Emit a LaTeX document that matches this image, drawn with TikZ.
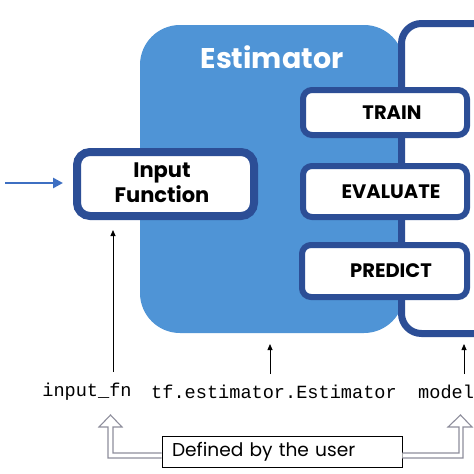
\documentclass[tikz,border=0pt]{standalone}
\usepackage{fontspec}
\setmainfont{Poppins}
\setmonofont{Liberation Mono}
\usetikzlibrary{arrows.meta,calc}
\definecolor{estblue}{HTML}{4F94D6}
\definecolor{darkblue}{HTML}{2C4E96}
\definecolor{arrowblue}{HTML}{3E6FC2}
\definecolor{hollowgray}{HTML}{8E8E9C}
\tikzset{
  modebox/.style={draw=darkblue, line width=6pt, fill=white, rounded corners=9pt},
  modetext/.style={font=\fontsize{19.5}{22}\selectfont\bfseries, text=black},
  codetext/.style={font=\fontsize{18.6}{22}\selectfont\ttfamily, text=black, inner sep=0pt},
  pointer/.style={draw=black, line width=0.8pt, -{Triangle[length=6pt,width=5pt]}},
  hollow/.style={draw=hollowgray, line width=1.1pt, fill=white, line join=miter},
}
\begin{document}
\begin{tikzpicture}[x=1pt,y=-1pt]
\useasboundingbox (0,0) rectangle (474,474);
\clip (0,0) rectangle (474,474);
\fill[white] (0,0) rectangle (474,474);

% Estimator container
\fill[estblue, rounded corners=40pt] (140,25) rectangle (404,333);
\node[font=\fontsize{28.5}{32}\selectfont\bfseries, text=white] (esttitle) at (272,57) {Estimator};

% model function container (runs off the right edge)
\draw[draw=darkblue, line width=7pt, fill=white, rounded corners=20pt]
  (401.5,23.5) rectangle (520,333.5);

% mode boxes
\draw[modebox] (303,90) rectangle (467,135);
\node[modetext] (train) at (392,113) {TRAIN};
\draw[modebox] (303,166) rectangle (467,217);
\node[modetext] (evaluate) at (391,192) {EVALUATE};
\draw[modebox] (302,245) rectangle (467,297);
\node[modetext] (predict) at (391,271) {PREDICT};

% input function box
\draw[draw=darkblue, line width=8pt, fill=white, rounded corners=13pt]
  (77,152) rectangle (254,216);
\node[font=\fontsize{21}{25}\selectfont\bfseries, align=center, text=black] (inputfn) at (162,183) {Input\\Function};
\coordinate (inleft) at (73,183);
\coordinate (datasrc) at (5,183);
\draw[arrowblue, line width=2.6pt, -{Triangle[length=10pt,width=10pt]}] (datasrc) -- ($(inleft)+(-10,0)$);

% code labels
\node[codetext] (lblinput) at (87,392) {input\_fn};
\node[codetext] (lblest) at (274,392) {tf.estimator.Estimator};
\node[codetext, anchor=west] (lblmodel) at (418,392) {model};

% pointers
\coordinate (pinput) at (113,230);
\coordinate (pest) at (270,344);
\coordinate (pmodel) at (464,344);
\draw[pointer] (113,372) -- (pinput);
\draw[pointer] (270,374) -- (pest);
\draw[pointer] (464,374) -- (pmodel);

% user-defined box with hollow arrows
\node[draw=black, line width=0.9pt, text width=220pt, align=left, minimum height=31pt,
      inner xsep=10pt, inner ysep=0pt,
      font=\fontsize{18.6}{22}\selectfont, text=black] (user) at (282,451.5) {Defined by the user};
\draw[hollow] (user.west |- 0,453) -- (113,453) -- (113,427) -- (122,427) -- (110.5,415)
  -- (99,427) -- (108,427) -- (108,458) -- (user.west |- 0,458);
\draw[hollow] (user.east |- 0,453) -- (459,453) -- (459,427) -- (448,427) -- (460.5,415)
  -- (472,427) -- (463,427) -- (463,458) -- (user.east |- 0,458);
\end{tikzpicture}
\end{document}
